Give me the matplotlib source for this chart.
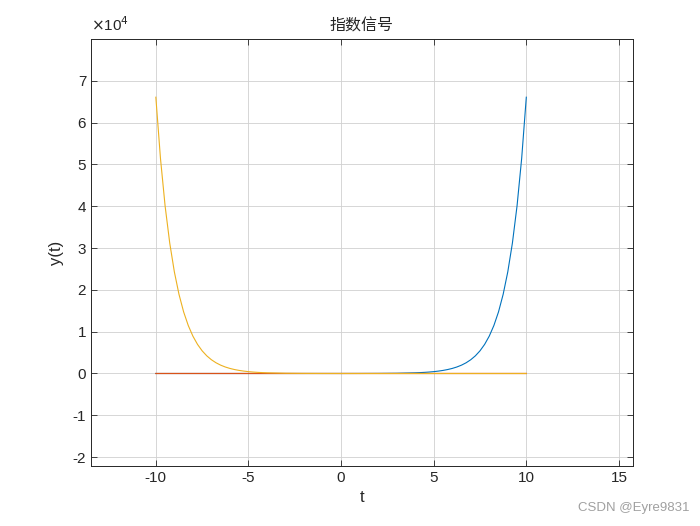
import matplotlib.pyplot as plt

plt.rcParams['font.family'] = ['Liberation Sans', 'Noto Sans CJK SC', 'DejaVu Sans']

# valores (t y amplitud)
t = [-10, -8, -6, -4, -2, 0, 1, 2, 3, 4, 4.25, 4.5, 4.75, 5, 5.25, 5.5, 5.75,
     6, 6.25, 6.5, 6.75, 7, 7.25, 7.5, 7.75, 8, 8.25, 8.5, 8.75,
     9, 9.25, 9.5, 9.75, 10]
y_crece = [0, 0, 0, 0.05, 0.4, 3, 8, 22, 60, 164, 210, 270, 347, 445, 572, 734, 943,
           1210, 1554, 1995, 2562, 3290, 4224, 5424, 6965, 8943, 11483, 14744, 18932,
           24309, 31213, 40079, 51462, 66079]
t_const = [-10, 10]
y_const = [3, 3]
t_decae = [-x for x in t]
y_decae = list(y_crece)

xticks = [-10, -5, 0, 5, 10, 15]
yticks = [-2, -1, 0, 1, 2, 3, 4, 5, 6, 7]

fig = plt.figure(figsize=(7, 5.26), dpi=100)
ax = fig.add_axes([91 / 700, 1 - 466 / 526, (633 - 91) / 700, (466 - 39) / 526])

ax.plot(t, y_crece, color='#0072BD', linewidth=0.8, zorder=3, snap=False)
ax.plot(t_const, y_const, color='#D95319', linewidth=0.9, zorder=4, snap=False)
ax.plot(t_decae, y_decae, color='#EDB120', linewidth=0.8, zorder=5, snap=False)

ax.set_xlim(-13.5, 15.76)
ax.set_ylim(-2.2123e4, 8.0e4)
ax.set_xticks(xticks)
ax.set_xticklabels([str(v) for v in xticks])
ax.set_yticks([v * 1e4 for v in yticks])
ax.set_yticklabels([str(v) for v in yticks])

ax.grid(True, color='#d0d0d0', linewidth=0.6)
ax.tick_params(direction='in', top=True, right=True, length=4, width=0.6,
               colors='#262626', labelsize=11)
for s in ax.spines.values():
    s.set_color('#262626')
    s.set_linewidth(0.7)

ax.set_title('指数信号', fontsize=11.5, color='#262626', pad=6,
             family=['Noto Sans CJK SC', 'DejaVu Sans'])
ax.set_xlabel('t', fontsize=12, color='#262626', labelpad=4)
ax.set_ylabel('y(t)', fontsize=12, color='#262626', labelpad=6)
ax.text(0.0, 1.012, r'$\times$10$^{4}$', transform=ax.transAxes, fontsize=11,
        color='#262626', ha='left', va='bottom')

fig.text(0.985, 0.035, 'CSDN @Eyre9831', fontsize=9.5, color='#a0a0a0',
         ha='right', va='center')

plt.savefig('out.png')
